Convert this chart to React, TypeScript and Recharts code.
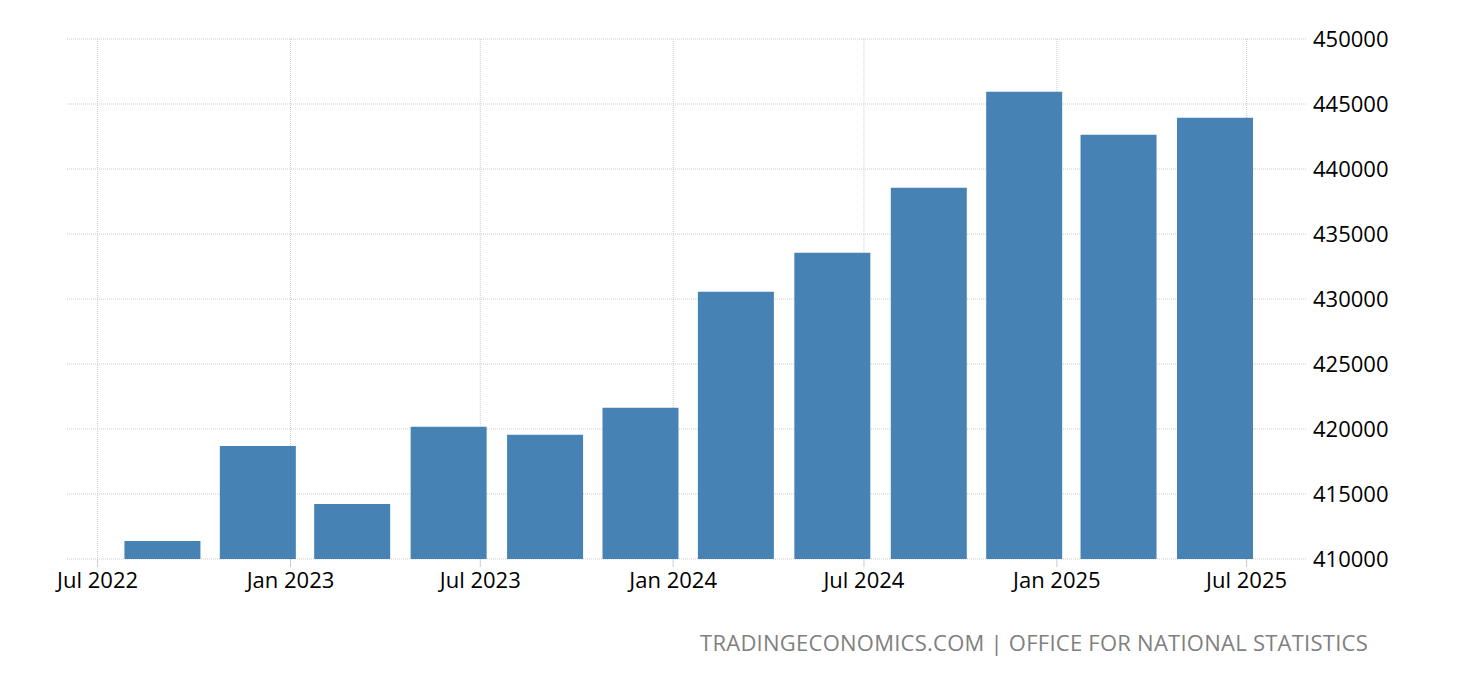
import React from "react";
import { BarChart, Bar, XAxis, YAxis, CartesianGrid } from "recharts";

// Quarterly observations (month in which each bar sits)
const periods = [
  "2022-09-01", "2022-12-01", "2023-03-01", "2023-06-01",
  "2023-09-01", "2023-12-01", "2024-03-01", "2024-06-01",
  "2024-09-01", "2024-12-01", "2025-03-01", "2025-06-01",
];
const values = [
  411380, 418690, 414230, 420180,
  419560, 421640, 430560, 433560,
  438560, 445950, 442640, 443950,
];

const xTickDates = [
  "2022-07-01", "2023-01-01", "2023-07-01", "2024-01-01",
  "2024-07-01", "2025-01-01", "2025-07-01",
];
const xTickLabels = [
  "Jul 2022", "Jan 2023", "Jul 2023", "Jan 2024",
  "Jul 2024", "Jan 2025", "Jul 2025",
];
const yTicks = [410000, 415000, 420000, 425000, 430000, 435000, 440000, 445000, 450000];

const DAY = 86400000;
const toDay = (s: string) => Date.parse(s + "T00:00:00Z") / DAY;

const data = periods.map((p, i) => ({ t: toDay(p), value: values[i] }));
const xTicks = xTickDates.map(toDay);
const labelFor = (v: number) => {
  const i = xTicks.indexOf(v);
  return i >= 0 ? xTickLabels[i] : "";
};

const xDomain = [toDay("2022-07-01") - 29.2, toDay("2025-07-01") + 57.6];

const FONT = "'Open Sans', 'Noto Sans', sans-serif";

// vertical grid lines only at the x ticks, mapped through the axis' linear domain
const verticalGen = (props: any) => {
  const off = props?.offset;
  if (!off) return [];
  const [d0, d1] = xDomain;
  return xTicks.map((t) => off.left + ((t - d0) / (d1 - d0)) * off.width);
};

export default function App() {
  return (
    <div style={{ position: "absolute", left: 0, top: 0, width: 1460, height: 680, background: "#fff" }}>
      <BarChart
        width={1460}
        height={680}
        data={data}
        margin={{ top: 39, right: 53, left: 67, bottom: 91 }}
      >
        <CartesianGrid
          stroke="#cccccc"
          strokeDasharray="1 1"
          verticalCoordinatesGenerator={verticalGen}
        />
        <XAxis
          dataKey="t"
          type="number"
          domain={xDomain}
          allowDataOverflow
          ticks={xTicks}
          tickFormatter={labelFor}
          axisLine={false}
          tickLine={{ stroke: "#cccccc" }}
          tickSize={8}
          tickMargin={5}
          height={30}
          interval={0}
          tick={{ fill: "#000", fontSize: 22, fontFamily: FONT }}
        />
        <YAxis
          orientation="right"
          domain={[410000, 450000]}
          allowDataOverflow
          ticks={yTicks}
          axisLine={false}
          tickLine={false}
          tickSize={0}
          tickMargin={6}
          width={100}
          interval={0}
          tick={{ fill: "#000", fontSize: 22, fontFamily: FONT, textAnchor: "start" }}
        />
        <Bar dataKey="value" fill="#4682b4" barSize={76} isAnimationActive={false} />
      </BarChart>
      <div
        style={{
          position: "absolute",
          right: 1460 - 1368,
          top: 627,
          fontFamily: FONT,
          fontSize: 22,
          letterSpacing: "0.25px",
          color: "#808080",
          whiteSpace: "nowrap",
          lineHeight: "30px",
        }}
      >
        TRADINGECONOMICS.COM | OFFICE FOR NATIONAL STATISTICS
      </div>
    </div>
  );
}
